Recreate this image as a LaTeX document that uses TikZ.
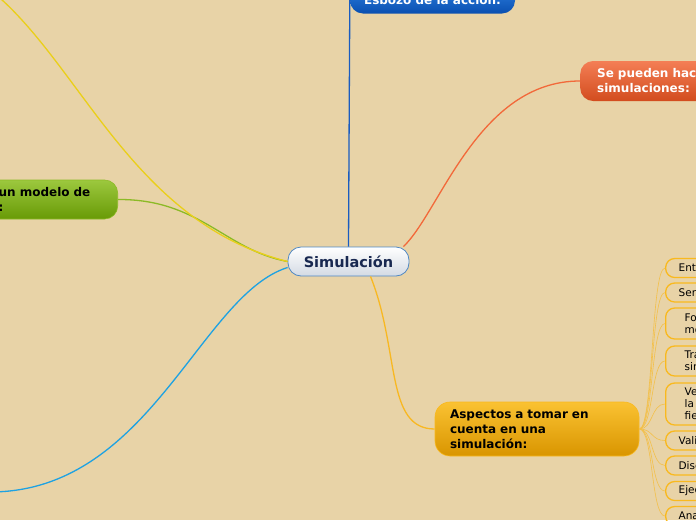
\documentclass[tikz,border=0pt]{standalone}
\usepackage{fontspec}
\setmainfont{DejaVu Sans}
\usetikzlibrary{positioning,calc}

\definecolor{bgtan}{HTML}{E8D3A7}
\definecolor{simtop}{HTML}{FFFFFF}
\definecolor{simbot}{HTML}{D3DAE3}
\definecolor{simedge}{HTML}{4F88C4}
\definecolor{simtext}{HTML}{182850}
\definecolor{bluetop}{HTML}{2C7FE0}
\definecolor{bluebot}{HTML}{0A4FB0}
\definecolor{redtop}{HTML}{F47E55}
\definecolor{redbot}{HTML}{D24C1E}
\definecolor{greentop}{HTML}{9CC83E}
\definecolor{greenbot}{HTML}{689A06}
\definecolor{goldtop}{HTML}{FAC232}
\definecolor{goldbot}{HTML}{D99500}
\definecolor{goldedge}{HTML}{F9B91E}
\definecolor{linkblue}{HTML}{1A5CC0}
\definecolor{linkred}{HTML}{F2693A}
\definecolor{linkgreen}{HTML}{8CBA26}
\definecolor{linkyellow}{HTML}{EACF1A}
\definecolor{linkcyan}{HTML}{1EA2E2}
\definecolor{linkgold}{HTML}{F8B822}

\tikzset{
  topic/.style={rounded corners=13pt, inner ysep=0pt, align=left,
    font=\bfseries\fontsize{12}{15}\selectfont},
  leaf/.style={draw=goldedge, line width=1.3pt, rounded corners=9pt, anchor=west,
    inner xsep=13pt, inner ysep=0pt, text width=30pt, align=left,
    minimum height=19pt, font=\fontsize{10.5}{12}\selectfont},
  tall/.style={leaf, inner xsep=19pt},
  link/.style={line width=1.3pt},
  sublink/.style={line width=0.6pt, draw=linkgold!70!bgtan}
}

\begin{document}
\begin{tikzpicture}[x=1pt, y=-1pt]
  \useasboundingbox (0,0) rectangle (696,520);
  \clip (0,0) rectangle (696,520);
  \fill[bgtan] (0,0) rectangle (696,520);

  % centre
  \node[topic, draw=simedge, line width=0.8pt, top color=simtop, bottom color=simbot,
        minimum width=121pt, minimum height=29pt, text=simtext, align=center,
        font=\bfseries\fontsize{14.5}{16}\selectfont] (sim) at (348.5,261.5) {Simulación};

  % main topics
  \node[topic, top color=bluetop, bottom color=bluebot, text=white,
        minimum width=165pt, minimum height=27pt, align=center] (esbozo) at (432.5,0) {Esbozo de la acción:};
  \node[topic, top color=redtop, bottom color=redbot, text=white, anchor=west,
        inner xsep=17pt, text width=120pt, minimum height=40pt] (hacer) at (580,81) {Se pueden hac\\simulaciones:};
  \node[topic, draw=linkgreen, line width=0.6pt, top color=greentop, bottom color=greenbot, anchor=east,
        inner xsep=15pt, text width=104pt, minimum height=39pt] (modelo) at (118,199.5) {un modelo de\\:};
  \node[topic, draw=goldedge, line width=0.6pt, top color=goldtop, bottom color=goldbot,
        rounded corners=15pt, inner xsep=15pt, text width=174pt, minimum height=54pt] (aspectos) at (537,429)
        {Aspectos a tomar en\\cuenta en una\\simulación:};

  % sub topics
  \node[leaf] (ente) at (665,268) {Ente};
  \node[leaf] (ser) at (665,292.5) {Ser};
  \node[tall, minimum height=31pt] (fo) at (665,323.5) {Fo\\mo};
  \node[tall, minimum height=30pt] (tra) at (665,361) {Tra\\sin};
  \node[tall, minimum height=42pt] (ve) at (665,404) {Ve\\la\\fie};
  \node[leaf] (vali) at (665,440.5) {Vali};
  \node[leaf] (dise) at (665,465.5) {Dise};
  \node[leaf] (ejec) at (665,491) {Ejec};
  \node[leaf] (ana) at (665,516) {Ana};

  % free ends of branches leaving the page
  \coordinate (ylw) at (-12,-12);
  \coordinate (cyn) at (-10,492);

  % branches
  \draw[link, linkblue] (sim.north) -- (esbozo.west);
  \draw[link, linkred] ([xshift=-6pt]sim.north east) .. controls (440,212) and (478,81) .. (hacer.west);
  \draw[link, linkgreen] (modelo.east) .. controls (200,199) and (225,250) .. (sim.west);
  \draw[link, linkyellow] (ylw) .. controls (80,60) and (130,222) .. (sim.west);
  \draw[link, linkcyan] ([yshift=-6pt]sim.west) .. controls (200,295) and (150,492) .. (cyn);
  \draw[link, linkgold] ([xshift=22pt]sim.south) .. controls (400,350) and (385,429) .. (aspectos.west);
  \foreach \c in {ente,ser,fo,tra,ve,vali,dise,ejec,ana}
    \draw[sublink] (aspectos.east) .. controls +(14,0) and +(-14,0) .. (\c.west);
\end{tikzpicture}
\end{document}
